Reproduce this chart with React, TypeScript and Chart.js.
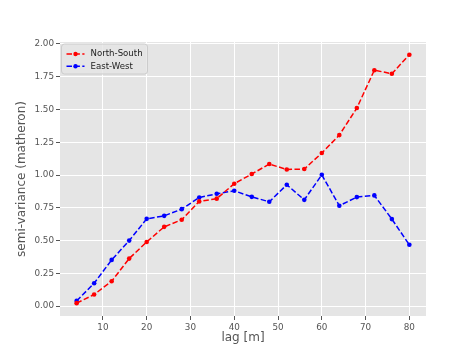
import React, { useEffect, useRef } from 'react';
import { Chart, registerables } from 'chart.js';

Chart.register(...registerables);

const lags = [4, 8, 12, 16, 20, 24, 28, 32, 36, 40, 44, 48, 52, 56, 60, 64, 68, 72, 76, 80];
const northSouth = [0.023, 0.089, 0.19, 0.363, 0.49, 0.605, 0.659, 0.799, 0.82, 0.934, 1.008, 1.084, 1.043, 1.046, 1.168, 1.305, 1.511, 1.8, 1.773, 1.918];
const eastWest = [0.04, 0.175, 0.353, 0.5, 0.666, 0.689, 0.74, 0.829, 0.857, 0.88, 0.834, 0.796, 0.926, 0.811, 1.002, 0.766, 0.832, 0.845, 0.664, 0.468];
const seriesNames = ['North-South', 'East-West'];
const seriesColors = ['#ff0000', '#0000ff'];
const xTitle = 'lag [m]';
const yTitle = 'semi-variance (matheron)';

const FONT = "'DejaVu Sans', sans-serif";
const DASH = [5.5, 2.4];

const deco = {
  id: 'deco',
  beforeDraw(chart: any) {
    const { ctx, chartArea: a } = chart;
    ctx.save();
    ctx.fillStyle = '#ffffff';
    ctx.fillRect(0, 0, chart.width, chart.height);
    ctx.fillStyle = '#e5e5e5';
    ctx.fillRect(a.left, a.top, a.right - a.left, a.bottom - a.top);
    ctx.restore();
  },
  afterDraw(chart: any) {
    const { ctx, chartArea: a } = chart;
    ctx.save();
    // axis titles
    ctx.fillStyle = '#555555';
    ctx.font = `12px ${FONT}`;
    ctx.textAlign = 'center';
    ctx.textBaseline = 'middle';
    ctx.fillText(xTitle, (a.left + a.right) / 2, 338);
    ctx.translate(22, (a.top + a.bottom) / 2);
    ctx.rotate(-Math.PI / 2);
    ctx.fillText(yTitle, 0, 0);
    ctx.restore();

    // legend
    ctx.save();
    const bx = a.left + 1.5, by = a.top + 2, bw = 86, bh = 30;
    ctx.beginPath();
    (ctx as any).roundRect(bx, by, bw, bh, 3);
    ctx.fillStyle = 'rgba(229,229,229,0.8)';
    ctx.fill();
    ctx.strokeStyle = '#cccccc';
    ctx.lineWidth = 1;
    ctx.stroke();
    ctx.font = `8.6px ${FONT}`;
    ctx.textAlign = 'left';
    ctx.textBaseline = 'middle';
    seriesNames.forEach((name, i) => {
      const y = by + 10 + i * 12.3;
      ctx.strokeStyle = seriesColors[i];
      ctx.lineWidth = 1.5;
      ctx.setLineDash(DASH);
      ctx.beginPath();
      ctx.moveTo(bx + 5, y);
      ctx.lineTo(bx + 23, y);
      ctx.stroke();
      ctx.setLineDash([]);
      ctx.fillStyle = seriesColors[i];
      ctx.beginPath();
      ctx.arc(bx + 14, y, 2.2, 0, Math.PI * 2);
      ctx.fill();
      ctx.fillStyle = '#222222';
      ctx.fillText(name, bx + 29, y);
    });
    ctx.restore();
  },
};

export default function App() {
  const ref = useRef<HTMLCanvasElement>(null);
  useEffect(() => {
    if (!ref.current) return;
    const mk = (vals: number[], i: number) => ({
      label: seriesNames[i],
      data: lags.map((x, k) => ({ x, y: vals[k] })),
      borderColor: seriesColors[i],
      backgroundColor: seriesColors[i],
      borderWidth: 1.5,
      borderDash: DASH,
      pointRadius: 2.3,
      pointBorderWidth: 0,
      pointBackgroundColor: seriesColors[i],
      tension: 0,
      fill: false,
    });
    const tickStyle = { color: '#555555', font: { family: FONT, size: 8.8 } };
    const chart = new Chart(ref.current, {
      type: 'line',
      data: { datasets: [mk(northSouth, 0), mk(eastWest, 1)] },
      options: {
        responsive: false,
        animation: false,
        layout: { padding: { left: 0, top: 42, right: 48, bottom: 0 } },
        plugins: { legend: { display: false }, tooltip: { enabled: false } },
        scales: {
          x: {
            type: 'linear',
            min: 0.2,
            max: 83.8,
            ticks: { ...tickStyle, stepSize: 10, includeBounds: false, padding: 2, maxRotation: 0 },
            grid: { color: '#ffffff', lineWidth: 1, tickColor: '#555555', tickLength: 4 },
            border: { display: false },
            afterFit: (s: any) => { s.height = 39; },
          },
          y: {
            type: 'linear',
            min: -0.075,
            max: 2.015,
            ticks: { ...tickStyle, stepSize: 0.25, includeBounds: false, padding: 2, callback: (v: any) => Number(v).toFixed(2) },
            grid: { color: '#ffffff', lineWidth: 1, tickColor: '#555555', tickLength: 4 },
            border: { display: false },
            afterFit: (s: any) => { s.width = 60; },
          },
        },
      } as any,
      plugins: [deco],
    });
    return () => chart.destroy();
  }, []);
  return (
    <div style={{ position: 'absolute', left: 0, top: 0, width: 474, height: 355 }}>
      <canvas ref={ref} width={474} height={355} style={{ display: 'block' }} />
    </div>
  );
}
